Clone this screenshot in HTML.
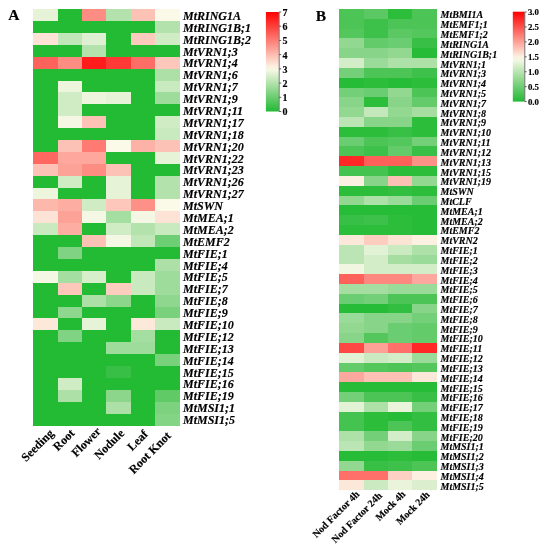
<!DOCTYPE html><html><head><meta charset="utf-8"><style>html,body{margin:0;padding:0;background:#fff;width:548px;height:550px;overflow:hidden}svg{display:block}text{font-family:"Liberation Serif","Times New Roman",serif;font-weight:bold;fill:#000;stroke:#000;stroke-width:0.15px}.it{font-style:italic}</style></head><body>
<svg width="548" height="550" viewBox="0 0 548 550">
<rect x="0" y="0" width="548" height="550" fill="#fff"/>
<defs>
<linearGradient id="ga" x1="0" y1="1" x2="0" y2="0">
<stop offset="0.000" stop-color="#22bb33"/>
<stop offset="0.042" stop-color="#37bf45"/>
<stop offset="0.083" stop-color="#4cc556"/>
<stop offset="0.125" stop-color="#61ca68"/>
<stop offset="0.167" stop-color="#76d07a"/>
<stop offset="0.208" stop-color="#8cd68c"/>
<stop offset="0.250" stop-color="#a1dd9d"/>
<stop offset="0.292" stop-color="#b6e3af"/>
<stop offset="0.333" stop-color="#cbeac1"/>
<stop offset="0.375" stop-color="#e0f1d3"/>
<stop offset="0.417" stop-color="#f5f8e4"/>
<stop offset="0.458" stop-color="#fceede"/>
<stop offset="0.500" stop-color="#fcdbcd"/>
<stop offset="0.542" stop-color="#fdc9bc"/>
<stop offset="0.583" stop-color="#fdb7ab"/>
<stop offset="0.625" stop-color="#fda49a"/>
<stop offset="0.667" stop-color="#fd9289"/>
<stop offset="0.708" stop-color="#fd8078"/>
<stop offset="0.750" stop-color="#fe6e67"/>
<stop offset="0.792" stop-color="#fe5b56"/>
<stop offset="0.833" stop-color="#fe4944"/>
<stop offset="0.875" stop-color="#fe3733"/>
<stop offset="0.917" stop-color="#ff2522"/>
<stop offset="0.958" stop-color="#ff1211"/>
<stop offset="1.000" stop-color="#ff0000"/>
</linearGradient>
<linearGradient id="gb" x1="0" y1="1" x2="0" y2="0">
<stop offset="0.000" stop-color="#22bb33"/>
<stop offset="0.042" stop-color="#35bf43"/>
<stop offset="0.083" stop-color="#48c353"/>
<stop offset="0.125" stop-color="#5bc863"/>
<stop offset="0.167" stop-color="#6ece73"/>
<stop offset="0.208" stop-color="#81d382"/>
<stop offset="0.250" stop-color="#94d992"/>
<stop offset="0.292" stop-color="#a6dfa2"/>
<stop offset="0.333" stop-color="#b9e4b2"/>
<stop offset="0.375" stop-color="#cceac2"/>
<stop offset="0.417" stop-color="#dff1d2"/>
<stop offset="0.458" stop-color="#f2f7e2"/>
<stop offset="0.500" stop-color="#fcf0e1"/>
<stop offset="0.542" stop-color="#fcdcce"/>
<stop offset="0.583" stop-color="#fdc8bb"/>
<stop offset="0.625" stop-color="#fdb4a9"/>
<stop offset="0.667" stop-color="#fda096"/>
<stop offset="0.708" stop-color="#fd8c83"/>
<stop offset="0.750" stop-color="#fe7870"/>
<stop offset="0.792" stop-color="#fe645e"/>
<stop offset="0.833" stop-color="#fe504b"/>
<stop offset="0.875" stop-color="#fe3c38"/>
<stop offset="0.917" stop-color="#ff2826"/>
<stop offset="0.958" stop-color="#ff1413"/>
<stop offset="1.000" stop-color="#ff0000"/>
</linearGradient>
</defs>
<text x="8.3" y="20.4" font-size="15.5">A</text>
<text x="315.8" y="20.8" font-size="15.5">B</text>
<g shape-rendering="crispEdges">
<rect x="33.20" y="9.25" width="24.65" height="12.19" fill="#e6f3d7"/>
<rect x="57.55" y="9.25" width="24.65" height="12.19" fill="#22bb33"/>
<rect x="81.90" y="9.25" width="24.65" height="12.19" fill="#fd8c83"/>
<rect x="106.25" y="9.25" width="24.65" height="12.19" fill="#b3e2ad"/>
<rect x="130.60" y="9.25" width="24.65" height="12.19" fill="#fdc2b6"/>
<rect x="154.95" y="9.25" width="24.65" height="12.19" fill="#fbfae9"/>
<rect x="33.20" y="21.14" width="24.65" height="12.19" fill="#22bb33"/>
<rect x="57.55" y="21.14" width="24.65" height="12.19" fill="#22bb33"/>
<rect x="81.90" y="21.14" width="24.65" height="12.19" fill="#22bb33"/>
<rect x="106.25" y="21.14" width="24.65" height="12.19" fill="#22bb33"/>
<rect x="130.60" y="21.14" width="24.65" height="12.19" fill="#22bb33"/>
<rect x="154.95" y="21.14" width="24.65" height="12.19" fill="#b3e2ad"/>
<rect x="33.20" y="33.03" width="24.65" height="12.19" fill="#fce3d5"/>
<rect x="57.55" y="33.03" width="24.65" height="12.19" fill="#c1e7b9"/>
<rect x="81.90" y="33.03" width="24.65" height="12.19" fill="#def0d1"/>
<rect x="106.25" y="33.03" width="24.65" height="12.19" fill="#22bb33"/>
<rect x="130.60" y="33.03" width="24.65" height="12.19" fill="#fdcbbe"/>
<rect x="154.95" y="33.03" width="24.65" height="12.19" fill="#d0ecc5"/>
<rect x="33.20" y="44.92" width="24.65" height="12.19" fill="#22bb33"/>
<rect x="57.55" y="44.92" width="24.65" height="12.19" fill="#22bb33"/>
<rect x="81.90" y="44.92" width="24.65" height="12.19" fill="#b3e2ad"/>
<rect x="106.25" y="44.92" width="24.65" height="12.19" fill="#22bb33"/>
<rect x="130.60" y="44.92" width="24.65" height="12.19" fill="#22bb33"/>
<rect x="154.95" y="44.92" width="24.65" height="12.19" fill="#22bb33"/>
<rect x="33.20" y="56.81" width="24.65" height="12.19" fill="#fe625c"/>
<rect x="57.55" y="56.81" width="24.65" height="12.19" fill="#fd8c83"/>
<rect x="81.90" y="56.81" width="24.65" height="12.19" fill="#ff1c1b"/>
<rect x="106.25" y="56.81" width="24.65" height="12.19" fill="#fe3936"/>
<rect x="130.60" y="56.81" width="24.65" height="12.19" fill="#fe6e67"/>
<rect x="154.95" y="56.81" width="24.65" height="12.19" fill="#fdc8bb"/>
<rect x="33.20" y="68.70" width="24.65" height="12.19" fill="#22bb33"/>
<rect x="57.55" y="68.70" width="24.65" height="12.19" fill="#22bb33"/>
<rect x="81.90" y="68.70" width="24.65" height="12.19" fill="#22bb33"/>
<rect x="106.25" y="68.70" width="24.65" height="12.19" fill="#22bb33"/>
<rect x="130.60" y="68.70" width="24.65" height="12.19" fill="#22bb33"/>
<rect x="154.95" y="68.70" width="24.65" height="12.19" fill="#ace0a7"/>
<rect x="33.20" y="80.59" width="24.65" height="12.19" fill="#22bb33"/>
<rect x="57.55" y="80.59" width="24.65" height="12.19" fill="#edf5dd"/>
<rect x="81.90" y="80.59" width="24.65" height="12.19" fill="#22bb33"/>
<rect x="106.25" y="80.59" width="24.65" height="12.19" fill="#22bb33"/>
<rect x="130.60" y="80.59" width="24.65" height="12.19" fill="#22bb33"/>
<rect x="154.95" y="80.59" width="24.65" height="12.19" fill="#c9e9bf"/>
<rect x="33.20" y="92.48" width="24.65" height="12.19" fill="#22bb33"/>
<rect x="57.55" y="92.48" width="24.65" height="12.19" fill="#d0ecc5"/>
<rect x="81.90" y="92.48" width="24.65" height="12.19" fill="#edf5dd"/>
<rect x="106.25" y="92.48" width="24.65" height="12.19" fill="#e6f3d7"/>
<rect x="130.60" y="92.48" width="24.65" height="12.19" fill="#22bb33"/>
<rect x="154.95" y="92.48" width="24.65" height="12.19" fill="#9ddc9a"/>
<rect x="33.20" y="104.37" width="24.65" height="12.19" fill="#22bb33"/>
<rect x="57.55" y="104.37" width="24.65" height="12.19" fill="#d0ecc5"/>
<rect x="81.90" y="104.37" width="24.65" height="12.19" fill="#22bb33"/>
<rect x="106.25" y="104.37" width="24.65" height="12.19" fill="#22bb33"/>
<rect x="130.60" y="104.37" width="24.65" height="12.19" fill="#22bb33"/>
<rect x="154.95" y="104.37" width="24.65" height="12.19" fill="#22bb33"/>
<rect x="33.20" y="116.26" width="24.65" height="12.19" fill="#22bb33"/>
<rect x="57.55" y="116.26" width="24.65" height="12.19" fill="#f4f7e3"/>
<rect x="81.90" y="116.26" width="24.65" height="12.19" fill="#fdc2b6"/>
<rect x="106.25" y="116.26" width="24.65" height="12.19" fill="#22bb33"/>
<rect x="130.60" y="116.26" width="24.65" height="12.19" fill="#22bb33"/>
<rect x="154.95" y="116.26" width="24.65" height="12.19" fill="#d0ecc5"/>
<rect x="33.20" y="128.15" width="24.65" height="12.19" fill="#22bb33"/>
<rect x="57.55" y="128.15" width="24.65" height="12.19" fill="#22bb33"/>
<rect x="81.90" y="128.15" width="24.65" height="12.19" fill="#22bb33"/>
<rect x="106.25" y="128.15" width="24.65" height="12.19" fill="#22bb33"/>
<rect x="130.60" y="128.15" width="24.65" height="12.19" fill="#22bb33"/>
<rect x="154.95" y="128.15" width="24.65" height="12.19" fill="#c9e9bf"/>
<rect x="33.20" y="140.04" width="24.65" height="12.19" fill="#22bb33"/>
<rect x="57.55" y="140.04" width="24.65" height="12.19" fill="#fdc2b6"/>
<rect x="81.90" y="140.04" width="24.65" height="12.19" fill="#fe7a72"/>
<rect x="106.25" y="140.04" width="24.65" height="12.19" fill="#fbfae9"/>
<rect x="130.60" y="140.04" width="24.65" height="12.19" fill="#fdb2a7"/>
<rect x="154.95" y="140.04" width="24.65" height="12.19" fill="#fdc2b6"/>
<rect x="33.20" y="151.93" width="24.65" height="12.19" fill="#fe6861"/>
<rect x="57.55" y="151.93" width="24.65" height="12.19" fill="#fda79d"/>
<rect x="81.90" y="151.93" width="24.65" height="12.19" fill="#fda79d"/>
<rect x="106.25" y="151.93" width="24.65" height="12.19" fill="#22bb33"/>
<rect x="130.60" y="151.93" width="24.65" height="12.19" fill="#22bb33"/>
<rect x="154.95" y="151.93" width="24.65" height="12.19" fill="#e6f3d7"/>
<rect x="33.20" y="163.82" width="24.65" height="12.19" fill="#fdc2b6"/>
<rect x="57.55" y="163.82" width="24.65" height="12.19" fill="#fda297"/>
<rect x="81.90" y="163.82" width="24.65" height="12.19" fill="#fd8c83"/>
<rect x="106.25" y="163.82" width="24.65" height="12.19" fill="#fdc2b6"/>
<rect x="130.60" y="163.82" width="24.65" height="12.19" fill="#22bb33"/>
<rect x="154.95" y="163.82" width="24.65" height="12.19" fill="#22bb33"/>
<rect x="33.20" y="175.71" width="24.65" height="12.19" fill="#22bb33"/>
<rect x="57.55" y="175.71" width="24.65" height="12.19" fill="#d0ecc5"/>
<rect x="81.90" y="175.71" width="24.65" height="12.19" fill="#22bb33"/>
<rect x="106.25" y="175.71" width="24.65" height="12.19" fill="#e6f3d7"/>
<rect x="130.60" y="175.71" width="24.65" height="12.19" fill="#22bb33"/>
<rect x="154.95" y="175.71" width="24.65" height="12.19" fill="#b3e2ad"/>
<rect x="33.20" y="187.60" width="24.65" height="12.19" fill="#edf5dd"/>
<rect x="57.55" y="187.60" width="24.65" height="12.19" fill="#22bb33"/>
<rect x="81.90" y="187.60" width="24.65" height="12.19" fill="#22bb33"/>
<rect x="106.25" y="187.60" width="24.65" height="12.19" fill="#e6f3d7"/>
<rect x="130.60" y="187.60" width="24.65" height="12.19" fill="#22bb33"/>
<rect x="154.95" y="187.60" width="24.65" height="12.19" fill="#b3e2ad"/>
<rect x="33.20" y="199.49" width="24.65" height="12.19" fill="#fdb8ac"/>
<rect x="57.55" y="199.49" width="24.65" height="12.19" fill="#fdada2"/>
<rect x="81.90" y="199.49" width="24.65" height="12.19" fill="#d0ecc5"/>
<rect x="106.25" y="199.49" width="24.65" height="12.19" fill="#fdc8bb"/>
<rect x="130.60" y="199.49" width="24.65" height="12.19" fill="#fd9188"/>
<rect x="154.95" y="199.49" width="24.65" height="12.19" fill="#fbfae9"/>
<rect x="33.20" y="211.38" width="24.65" height="12.19" fill="#fce3d5"/>
<rect x="57.55" y="211.38" width="24.65" height="12.19" fill="#fda297"/>
<rect x="81.90" y="211.38" width="24.65" height="12.19" fill="#f4f7e3"/>
<rect x="106.25" y="211.38" width="24.65" height="12.19" fill="#a4dea0"/>
<rect x="130.60" y="211.38" width="24.65" height="12.19" fill="#f4f7e3"/>
<rect x="154.95" y="211.38" width="24.65" height="12.19" fill="#fce3d5"/>
<rect x="33.20" y="223.27" width="24.65" height="12.19" fill="#c9e9bf"/>
<rect x="57.55" y="223.27" width="24.65" height="12.19" fill="#fdada2"/>
<rect x="81.90" y="223.27" width="24.65" height="12.19" fill="#22bb33"/>
<rect x="106.25" y="223.27" width="24.65" height="12.19" fill="#d0ecc5"/>
<rect x="130.60" y="223.27" width="24.65" height="12.19" fill="#b3e2ad"/>
<rect x="154.95" y="223.27" width="24.65" height="12.19" fill="#c9e9bf"/>
<rect x="33.20" y="235.16" width="24.65" height="12.19" fill="#22bb33"/>
<rect x="57.55" y="235.16" width="24.65" height="12.19" fill="#22bb33"/>
<rect x="81.90" y="235.16" width="24.65" height="12.19" fill="#fdc2b6"/>
<rect x="106.25" y="235.16" width="24.65" height="12.19" fill="#f4f7e3"/>
<rect x="130.60" y="235.16" width="24.65" height="12.19" fill="#c1e7b9"/>
<rect x="154.95" y="235.16" width="24.65" height="12.19" fill="#6ece73"/>
<rect x="33.20" y="247.05" width="24.65" height="12.19" fill="#22bb33"/>
<rect x="57.55" y="247.05" width="24.65" height="12.19" fill="#80d382"/>
<rect x="81.90" y="247.05" width="24.65" height="12.19" fill="#22bb33"/>
<rect x="106.25" y="247.05" width="24.65" height="12.19" fill="#22bb33"/>
<rect x="130.60" y="247.05" width="24.65" height="12.19" fill="#22bb33"/>
<rect x="154.95" y="247.05" width="24.65" height="12.19" fill="#22bb33"/>
<rect x="33.20" y="258.94" width="24.65" height="12.19" fill="#22bb33"/>
<rect x="57.55" y="258.94" width="24.65" height="12.19" fill="#22bb33"/>
<rect x="81.90" y="258.94" width="24.65" height="12.19" fill="#22bb33"/>
<rect x="106.25" y="258.94" width="24.65" height="12.19" fill="#22bb33"/>
<rect x="130.60" y="258.94" width="24.65" height="12.19" fill="#22bb33"/>
<rect x="154.95" y="258.94" width="24.65" height="12.19" fill="#ace0a7"/>
<rect x="33.20" y="270.83" width="24.65" height="12.19" fill="#f4f7e3"/>
<rect x="57.55" y="270.83" width="24.65" height="12.19" fill="#a4dea0"/>
<rect x="81.90" y="270.83" width="24.65" height="12.19" fill="#d7eecb"/>
<rect x="106.25" y="270.83" width="24.65" height="12.19" fill="#22bb33"/>
<rect x="130.60" y="270.83" width="24.65" height="12.19" fill="#c9e9bf"/>
<rect x="154.95" y="270.83" width="24.65" height="12.19" fill="#9ddc9a"/>
<rect x="33.20" y="282.72" width="24.65" height="12.19" fill="#22bb33"/>
<rect x="57.55" y="282.72" width="24.65" height="12.19" fill="#fdc8bb"/>
<rect x="81.90" y="282.72" width="24.65" height="12.19" fill="#22bb33"/>
<rect x="106.25" y="282.72" width="24.65" height="12.19" fill="#fdcdc0"/>
<rect x="130.60" y="282.72" width="24.65" height="12.19" fill="#c9e9bf"/>
<rect x="154.95" y="282.72" width="24.65" height="12.19" fill="#9ddc9a"/>
<rect x="33.20" y="294.61" width="24.65" height="12.19" fill="#22bb33"/>
<rect x="57.55" y="294.61" width="24.65" height="12.19" fill="#22bb33"/>
<rect x="81.90" y="294.61" width="24.65" height="12.19" fill="#ace0a7"/>
<rect x="106.25" y="294.61" width="24.65" height="12.19" fill="#8bd68b"/>
<rect x="130.60" y="294.61" width="24.65" height="12.19" fill="#22bb33"/>
<rect x="154.95" y="294.61" width="24.65" height="12.19" fill="#8fd78e"/>
<rect x="33.20" y="306.50" width="24.65" height="12.19" fill="#22bb33"/>
<rect x="57.55" y="306.50" width="24.65" height="12.19" fill="#8fd78e"/>
<rect x="81.90" y="306.50" width="24.65" height="12.19" fill="#22bb33"/>
<rect x="106.25" y="306.50" width="24.65" height="12.19" fill="#22bb33"/>
<rect x="130.60" y="306.50" width="24.65" height="12.19" fill="#22bb33"/>
<rect x="154.95" y="306.50" width="24.65" height="12.19" fill="#79d17c"/>
<rect x="33.20" y="318.39" width="24.65" height="12.19" fill="#fce9da"/>
<rect x="57.55" y="318.39" width="24.65" height="12.19" fill="#22bb33"/>
<rect x="81.90" y="318.39" width="24.65" height="12.19" fill="#e6f3d7"/>
<rect x="106.25" y="318.39" width="24.65" height="12.19" fill="#22bb33"/>
<rect x="130.60" y="318.39" width="24.65" height="12.19" fill="#fce9da"/>
<rect x="154.95" y="318.39" width="24.65" height="12.19" fill="#c9e9bf"/>
<rect x="33.20" y="330.28" width="24.65" height="12.19" fill="#22bb33"/>
<rect x="57.55" y="330.28" width="24.65" height="12.19" fill="#80d382"/>
<rect x="81.90" y="330.28" width="24.65" height="12.19" fill="#22bb33"/>
<rect x="106.25" y="330.28" width="24.65" height="12.19" fill="#22bb33"/>
<rect x="130.60" y="330.28" width="24.65" height="12.19" fill="#a4dea0"/>
<rect x="154.95" y="330.28" width="24.65" height="12.19" fill="#22bb33"/>
<rect x="33.20" y="342.17" width="24.65" height="12.19" fill="#22bb33"/>
<rect x="57.55" y="342.17" width="24.65" height="12.19" fill="#22bb33"/>
<rect x="81.90" y="342.17" width="24.65" height="12.19" fill="#22bb33"/>
<rect x="106.25" y="342.17" width="24.65" height="12.19" fill="#9ddc9a"/>
<rect x="130.60" y="342.17" width="24.65" height="12.19" fill="#9ddc9a"/>
<rect x="154.95" y="342.17" width="24.65" height="12.19" fill="#22bb33"/>
<rect x="33.20" y="354.06" width="24.65" height="12.19" fill="#22bb33"/>
<rect x="57.55" y="354.06" width="24.65" height="12.19" fill="#22bb33"/>
<rect x="81.90" y="354.06" width="24.65" height="12.19" fill="#22bb33"/>
<rect x="106.25" y="354.06" width="24.65" height="12.19" fill="#22bb33"/>
<rect x="130.60" y="354.06" width="24.65" height="12.19" fill="#22bb33"/>
<rect x="154.95" y="354.06" width="24.65" height="12.19" fill="#79d17c"/>
<rect x="33.20" y="365.95" width="24.65" height="12.19" fill="#22bb33"/>
<rect x="57.55" y="365.95" width="24.65" height="12.19" fill="#22bb33"/>
<rect x="81.90" y="365.95" width="24.65" height="12.19" fill="#22bb33"/>
<rect x="106.25" y="365.95" width="24.65" height="12.19" fill="#38bf45"/>
<rect x="130.60" y="365.95" width="24.65" height="12.19" fill="#22bb33"/>
<rect x="154.95" y="365.95" width="24.65" height="12.19" fill="#22bb33"/>
<rect x="33.20" y="377.84" width="24.65" height="12.19" fill="#22bb33"/>
<rect x="57.55" y="377.84" width="24.65" height="12.19" fill="#d0ecc5"/>
<rect x="81.90" y="377.84" width="24.65" height="12.19" fill="#22bb33"/>
<rect x="106.25" y="377.84" width="24.65" height="12.19" fill="#22bb33"/>
<rect x="130.60" y="377.84" width="24.65" height="12.19" fill="#22bb33"/>
<rect x="154.95" y="377.84" width="24.65" height="12.19" fill="#22bb33"/>
<rect x="33.20" y="389.73" width="24.65" height="12.19" fill="#22bb33"/>
<rect x="57.55" y="389.73" width="24.65" height="12.19" fill="#ace0a7"/>
<rect x="81.90" y="389.73" width="24.65" height="12.19" fill="#22bb33"/>
<rect x="106.25" y="389.73" width="24.65" height="12.19" fill="#8bd68b"/>
<rect x="130.60" y="389.73" width="24.65" height="12.19" fill="#22bb33"/>
<rect x="154.95" y="389.73" width="24.65" height="12.19" fill="#60ca67"/>
<rect x="33.20" y="401.62" width="24.65" height="12.19" fill="#22bb33"/>
<rect x="57.55" y="401.62" width="24.65" height="12.19" fill="#22bb33"/>
<rect x="81.90" y="401.62" width="24.65" height="12.19" fill="#22bb33"/>
<rect x="106.25" y="401.62" width="24.65" height="12.19" fill="#ace0a7"/>
<rect x="130.60" y="401.62" width="24.65" height="12.19" fill="#22bb33"/>
<rect x="154.95" y="401.62" width="24.65" height="12.19" fill="#7dd27f"/>
<rect x="33.20" y="413.51" width="24.65" height="12.19" fill="#22bb33"/>
<rect x="57.55" y="413.51" width="24.65" height="12.19" fill="#22bb33"/>
<rect x="81.90" y="413.51" width="24.65" height="12.19" fill="#22bb33"/>
<rect x="106.25" y="413.51" width="24.65" height="12.19" fill="#22bb33"/>
<rect x="130.60" y="413.51" width="24.65" height="12.19" fill="#22bb33"/>
<rect x="154.95" y="413.51" width="24.65" height="12.19" fill="#84d485"/>
<rect x="339.10" y="9.00" width="24.75" height="10.12" fill="#4cc456"/>
<rect x="363.55" y="9.00" width="24.75" height="10.12" fill="#5bc863"/>
<rect x="388.00" y="9.00" width="24.75" height="10.12" fill="#2cbd3b"/>
<rect x="412.45" y="9.00" width="24.75" height="10.12" fill="#4cc456"/>
<rect x="339.10" y="18.82" width="24.75" height="10.12" fill="#4cc456"/>
<rect x="363.55" y="18.82" width="24.75" height="10.12" fill="#3ec14a"/>
<rect x="388.00" y="18.82" width="24.75" height="10.12" fill="#4cc456"/>
<rect x="412.45" y="18.82" width="24.75" height="10.12" fill="#4cc456"/>
<rect x="339.10" y="28.64" width="24.75" height="10.12" fill="#53c65c"/>
<rect x="363.55" y="28.64" width="24.75" height="10.12" fill="#3ec14a"/>
<rect x="388.00" y="28.64" width="24.75" height="10.12" fill="#5bc863"/>
<rect x="412.45" y="28.64" width="24.75" height="10.12" fill="#53c65c"/>
<rect x="339.10" y="38.46" width="24.75" height="10.12" fill="#92d891"/>
<rect x="363.55" y="38.46" width="24.75" height="10.12" fill="#63cb69"/>
<rect x="388.00" y="38.46" width="24.75" height="10.12" fill="#6bcd71"/>
<rect x="412.45" y="38.46" width="24.75" height="10.12" fill="#38bf45"/>
<rect x="339.10" y="48.28" width="24.75" height="10.12" fill="#88d589"/>
<rect x="363.55" y="48.28" width="24.75" height="10.12" fill="#88d589"/>
<rect x="388.00" y="48.28" width="24.75" height="10.12" fill="#92d891"/>
<rect x="412.45" y="48.28" width="24.75" height="10.12" fill="#27bc37"/>
<rect x="339.10" y="58.10" width="24.75" height="10.12" fill="#d3edc8"/>
<rect x="363.55" y="58.10" width="24.75" height="10.12" fill="#9bdb99"/>
<rect x="388.00" y="58.10" width="24.75" height="10.12" fill="#ade1a8"/>
<rect x="412.45" y="58.10" width="24.75" height="10.12" fill="#ade1a8"/>
<rect x="339.10" y="67.92" width="24.75" height="10.12" fill="#74d078"/>
<rect x="363.55" y="67.92" width="24.75" height="10.12" fill="#4cc456"/>
<rect x="388.00" y="67.92" width="24.75" height="10.12" fill="#4cc456"/>
<rect x="412.45" y="67.92" width="24.75" height="10.12" fill="#3ec14a"/>
<rect x="339.10" y="77.74" width="24.75" height="10.12" fill="#27bc37"/>
<rect x="363.55" y="77.74" width="24.75" height="10.12" fill="#2cbd3b"/>
<rect x="388.00" y="77.74" width="24.75" height="10.12" fill="#27bc37"/>
<rect x="412.45" y="77.74" width="24.75" height="10.12" fill="#2cbd3b"/>
<rect x="339.10" y="87.56" width="24.75" height="10.12" fill="#74d078"/>
<rect x="363.55" y="87.56" width="24.75" height="10.12" fill="#6bcd71"/>
<rect x="388.00" y="87.56" width="24.75" height="10.12" fill="#92d891"/>
<rect x="412.45" y="87.56" width="24.75" height="10.12" fill="#4cc456"/>
<rect x="339.10" y="97.38" width="24.75" height="10.12" fill="#88d589"/>
<rect x="363.55" y="97.38" width="24.75" height="10.12" fill="#2cbd3b"/>
<rect x="388.00" y="97.38" width="24.75" height="10.12" fill="#88d589"/>
<rect x="412.45" y="97.38" width="24.75" height="10.12" fill="#63cb69"/>
<rect x="339.10" y="107.20" width="24.75" height="10.12" fill="#92d891"/>
<rect x="363.55" y="107.20" width="24.75" height="10.12" fill="#c4e8bb"/>
<rect x="388.00" y="107.20" width="24.75" height="10.12" fill="#92d891"/>
<rect x="412.45" y="107.20" width="24.75" height="10.12" fill="#a6dea2"/>
<rect x="339.10" y="117.02" width="24.75" height="10.12" fill="#bce5b5"/>
<rect x="363.55" y="117.02" width="24.75" height="10.12" fill="#88d589"/>
<rect x="388.00" y="117.02" width="24.75" height="10.12" fill="#88d589"/>
<rect x="412.45" y="117.02" width="24.75" height="10.12" fill="#2cbd3b"/>
<rect x="339.10" y="126.84" width="24.75" height="10.12" fill="#2cbd3b"/>
<rect x="363.55" y="126.84" width="24.75" height="10.12" fill="#2cbd3b"/>
<rect x="388.00" y="126.84" width="24.75" height="10.12" fill="#38bf45"/>
<rect x="412.45" y="126.84" width="24.75" height="10.12" fill="#2cbd3b"/>
<rect x="339.10" y="136.66" width="24.75" height="10.12" fill="#6bcd71"/>
<rect x="363.55" y="136.66" width="24.75" height="10.12" fill="#4cc456"/>
<rect x="388.00" y="136.66" width="24.75" height="10.12" fill="#53c65c"/>
<rect x="412.45" y="136.66" width="24.75" height="10.12" fill="#74d078"/>
<rect x="339.10" y="146.48" width="24.75" height="10.12" fill="#4cc456"/>
<rect x="363.55" y="146.48" width="24.75" height="10.12" fill="#3ec14a"/>
<rect x="388.00" y="146.48" width="24.75" height="10.12" fill="#63cb69"/>
<rect x="412.45" y="146.48" width="24.75" height="10.12" fill="#38bf45"/>
<rect x="339.10" y="156.30" width="24.75" height="10.12" fill="#ff2826"/>
<rect x="363.55" y="156.30" width="24.75" height="10.12" fill="#fe605a"/>
<rect x="388.00" y="156.30" width="24.75" height="10.12" fill="#fe605a"/>
<rect x="412.45" y="156.30" width="24.75" height="10.12" fill="#fd9087"/>
<rect x="339.10" y="166.12" width="24.75" height="10.12" fill="#45c350"/>
<rect x="363.55" y="166.12" width="24.75" height="10.12" fill="#45c350"/>
<rect x="388.00" y="166.12" width="24.75" height="10.12" fill="#2cbd3b"/>
<rect x="412.45" y="166.12" width="24.75" height="10.12" fill="#2cbd3b"/>
<rect x="339.10" y="175.94" width="24.75" height="10.12" fill="#fcf0e1"/>
<rect x="363.55" y="175.94" width="24.75" height="10.12" fill="#88d589"/>
<rect x="388.00" y="175.94" width="24.75" height="10.12" fill="#fdc0b4"/>
<rect x="412.45" y="175.94" width="24.75" height="10.12" fill="#92d891"/>
<rect x="339.10" y="185.76" width="24.75" height="10.12" fill="#2cbd3b"/>
<rect x="363.55" y="185.76" width="24.75" height="10.12" fill="#2cbd3b"/>
<rect x="388.00" y="185.76" width="24.75" height="10.12" fill="#32be40"/>
<rect x="412.45" y="185.76" width="24.75" height="10.12" fill="#2cbd3b"/>
<rect x="339.10" y="195.58" width="24.75" height="10.12" fill="#92d891"/>
<rect x="363.55" y="195.58" width="24.75" height="10.12" fill="#ade1a8"/>
<rect x="388.00" y="195.58" width="24.75" height="10.12" fill="#9bdb99"/>
<rect x="412.45" y="195.58" width="24.75" height="10.12" fill="#6bcd71"/>
<rect x="339.10" y="205.40" width="24.75" height="10.12" fill="#27bc37"/>
<rect x="363.55" y="205.40" width="24.75" height="10.12" fill="#27bc37"/>
<rect x="388.00" y="205.40" width="24.75" height="10.12" fill="#27bc37"/>
<rect x="412.45" y="205.40" width="24.75" height="10.12" fill="#27bc37"/>
<rect x="339.10" y="215.22" width="24.75" height="10.12" fill="#38bf45"/>
<rect x="363.55" y="215.22" width="24.75" height="10.12" fill="#3ec14a"/>
<rect x="388.00" y="215.22" width="24.75" height="10.12" fill="#2cbd3b"/>
<rect x="412.45" y="215.22" width="24.75" height="10.12" fill="#27bc37"/>
<rect x="339.10" y="225.04" width="24.75" height="10.12" fill="#2cbd3b"/>
<rect x="363.55" y="225.04" width="24.75" height="10.12" fill="#2cbd3b"/>
<rect x="388.00" y="225.04" width="24.75" height="10.12" fill="#2cbd3b"/>
<rect x="412.45" y="225.04" width="24.75" height="10.12" fill="#27bc37"/>
<rect x="339.10" y="234.86" width="24.75" height="10.12" fill="#fce8d9"/>
<rect x="363.55" y="234.86" width="24.75" height="10.12" fill="#fdcdc0"/>
<rect x="388.00" y="234.86" width="24.75" height="10.12" fill="#fce4d5"/>
<rect x="412.45" y="234.86" width="24.75" height="10.12" fill="#fcf0e1"/>
<rect x="339.10" y="244.68" width="24.75" height="10.12" fill="#bce5b5"/>
<rect x="363.55" y="244.68" width="24.75" height="10.12" fill="#e2f2d4"/>
<rect x="388.00" y="244.68" width="24.75" height="10.12" fill="#cceac1"/>
<rect x="412.45" y="244.68" width="24.75" height="10.12" fill="#ade1a8"/>
<rect x="339.10" y="254.50" width="24.75" height="10.12" fill="#bce5b5"/>
<rect x="363.55" y="254.50" width="24.75" height="10.12" fill="#d3edc8"/>
<rect x="388.00" y="254.50" width="24.75" height="10.12" fill="#a6dea2"/>
<rect x="412.45" y="254.50" width="24.75" height="10.12" fill="#9bdb99"/>
<rect x="339.10" y="264.32" width="24.75" height="10.12" fill="#f1f6e1"/>
<rect x="363.55" y="264.32" width="24.75" height="10.12" fill="#d3edc8"/>
<rect x="388.00" y="264.32" width="24.75" height="10.12" fill="#d3edc8"/>
<rect x="412.45" y="264.32" width="24.75" height="10.12" fill="#d3edc8"/>
<rect x="339.10" y="274.14" width="24.75" height="10.12" fill="#fe605a"/>
<rect x="363.55" y="274.14" width="24.75" height="10.12" fill="#fd887f"/>
<rect x="388.00" y="274.14" width="24.75" height="10.12" fill="#fd887f"/>
<rect x="412.45" y="274.14" width="24.75" height="10.12" fill="#fda89e"/>
<rect x="339.10" y="283.96" width="24.75" height="10.12" fill="#a6dea2"/>
<rect x="363.55" y="283.96" width="24.75" height="10.12" fill="#a6dea2"/>
<rect x="388.00" y="283.96" width="24.75" height="10.12" fill="#9bdb99"/>
<rect x="412.45" y="283.96" width="24.75" height="10.12" fill="#9bdb99"/>
<rect x="339.10" y="293.78" width="24.75" height="10.12" fill="#6bcd71"/>
<rect x="363.55" y="293.78" width="24.75" height="10.12" fill="#74d078"/>
<rect x="388.00" y="293.78" width="24.75" height="10.12" fill="#4cc456"/>
<rect x="412.45" y="293.78" width="24.75" height="10.12" fill="#4cc456"/>
<rect x="339.10" y="303.60" width="24.75" height="10.12" fill="#27bc37"/>
<rect x="363.55" y="303.60" width="24.75" height="10.12" fill="#27bc37"/>
<rect x="388.00" y="303.60" width="24.75" height="10.12" fill="#32be40"/>
<rect x="412.45" y="303.60" width="24.75" height="10.12" fill="#88d589"/>
<rect x="339.10" y="313.42" width="24.75" height="10.12" fill="#9bdb99"/>
<rect x="363.55" y="313.42" width="24.75" height="10.12" fill="#88d589"/>
<rect x="388.00" y="313.42" width="24.75" height="10.12" fill="#88d589"/>
<rect x="412.45" y="313.42" width="24.75" height="10.12" fill="#74d078"/>
<rect x="339.10" y="323.24" width="24.75" height="10.12" fill="#92d891"/>
<rect x="363.55" y="323.24" width="24.75" height="10.12" fill="#88d589"/>
<rect x="388.00" y="323.24" width="24.75" height="10.12" fill="#6bcd71"/>
<rect x="412.45" y="323.24" width="24.75" height="10.12" fill="#63cb69"/>
<rect x="339.10" y="333.06" width="24.75" height="10.12" fill="#88d589"/>
<rect x="363.55" y="333.06" width="24.75" height="10.12" fill="#53c65c"/>
<rect x="388.00" y="333.06" width="24.75" height="10.12" fill="#6bcd71"/>
<rect x="412.45" y="333.06" width="24.75" height="10.12" fill="#63cb69"/>
<rect x="339.10" y="342.88" width="24.75" height="10.12" fill="#fe4844"/>
<rect x="363.55" y="342.88" width="24.75" height="10.12" fill="#fda096"/>
<rect x="388.00" y="342.88" width="24.75" height="10.12" fill="#fe7069"/>
<rect x="412.45" y="342.88" width="24.75" height="10.12" fill="#ff2826"/>
<rect x="339.10" y="352.70" width="24.75" height="10.12" fill="#e2f2d4"/>
<rect x="363.55" y="352.70" width="24.75" height="10.12" fill="#cceac1"/>
<rect x="388.00" y="352.70" width="24.75" height="10.12" fill="#d3edc8"/>
<rect x="412.45" y="352.70" width="24.75" height="10.12" fill="#9bdb99"/>
<rect x="339.10" y="362.52" width="24.75" height="10.12" fill="#63cb69"/>
<rect x="363.55" y="362.52" width="24.75" height="10.12" fill="#53c65c"/>
<rect x="388.00" y="362.52" width="24.75" height="10.12" fill="#4cc456"/>
<rect x="412.45" y="362.52" width="24.75" height="10.12" fill="#53c65c"/>
<rect x="339.10" y="372.34" width="24.75" height="10.12" fill="#fda89e"/>
<rect x="363.55" y="372.34" width="24.75" height="10.12" fill="#fdc0b4"/>
<rect x="388.00" y="372.34" width="24.75" height="10.12" fill="#fdc0b4"/>
<rect x="412.45" y="372.34" width="24.75" height="10.12" fill="#fce8d9"/>
<rect x="339.10" y="382.16" width="24.75" height="10.12" fill="#27bc37"/>
<rect x="363.55" y="382.16" width="24.75" height="10.12" fill="#27bc37"/>
<rect x="388.00" y="382.16" width="24.75" height="10.12" fill="#27bc37"/>
<rect x="412.45" y="382.16" width="24.75" height="10.12" fill="#27bc37"/>
<rect x="339.10" y="391.98" width="24.75" height="10.12" fill="#74d078"/>
<rect x="363.55" y="391.98" width="24.75" height="10.12" fill="#4cc456"/>
<rect x="388.00" y="391.98" width="24.75" height="10.12" fill="#4cc456"/>
<rect x="412.45" y="391.98" width="24.75" height="10.12" fill="#38bf45"/>
<rect x="339.10" y="401.80" width="24.75" height="10.12" fill="#e2f2d4"/>
<rect x="363.55" y="401.80" width="24.75" height="10.12" fill="#ade1a8"/>
<rect x="388.00" y="401.80" width="24.75" height="10.12" fill="#eaf4db"/>
<rect x="412.45" y="401.80" width="24.75" height="10.12" fill="#74d078"/>
<rect x="339.10" y="411.62" width="24.75" height="10.12" fill="#45c350"/>
<rect x="363.55" y="411.62" width="24.75" height="10.12" fill="#2cbd3b"/>
<rect x="388.00" y="411.62" width="24.75" height="10.12" fill="#27bc37"/>
<rect x="412.45" y="411.62" width="24.75" height="10.12" fill="#32be40"/>
<rect x="339.10" y="421.44" width="24.75" height="10.12" fill="#45c350"/>
<rect x="363.55" y="421.44" width="24.75" height="10.12" fill="#2cbd3b"/>
<rect x="388.00" y="421.44" width="24.75" height="10.12" fill="#4cc456"/>
<rect x="412.45" y="421.44" width="24.75" height="10.12" fill="#32be40"/>
<rect x="339.10" y="431.26" width="24.75" height="10.12" fill="#ade1a8"/>
<rect x="363.55" y="431.26" width="24.75" height="10.12" fill="#74d078"/>
<rect x="388.00" y="431.26" width="24.75" height="10.12" fill="#d3edc8"/>
<rect x="412.45" y="431.26" width="24.75" height="10.12" fill="#88d589"/>
<rect x="339.10" y="441.08" width="24.75" height="10.12" fill="#bce5b5"/>
<rect x="363.55" y="441.08" width="24.75" height="10.12" fill="#92d891"/>
<rect x="388.00" y="441.08" width="24.75" height="10.12" fill="#9bdb99"/>
<rect x="412.45" y="441.08" width="24.75" height="10.12" fill="#6bcd71"/>
<rect x="339.10" y="450.90" width="24.75" height="10.12" fill="#27bc37"/>
<rect x="363.55" y="450.90" width="24.75" height="10.12" fill="#27bc37"/>
<rect x="388.00" y="450.90" width="24.75" height="10.12" fill="#2cbd3b"/>
<rect x="412.45" y="450.90" width="24.75" height="10.12" fill="#27bc37"/>
<rect x="339.10" y="460.72" width="24.75" height="10.12" fill="#92d891"/>
<rect x="363.55" y="460.72" width="24.75" height="10.12" fill="#38bf45"/>
<rect x="388.00" y="460.72" width="24.75" height="10.12" fill="#3ec14a"/>
<rect x="412.45" y="460.72" width="24.75" height="10.12" fill="#4cc456"/>
<rect x="339.10" y="470.54" width="24.75" height="10.12" fill="#fe7069"/>
<rect x="363.55" y="470.54" width="24.75" height="10.12" fill="#fe7069"/>
<rect x="388.00" y="470.54" width="24.75" height="10.12" fill="#fcd0c3"/>
<rect x="412.45" y="470.54" width="24.75" height="10.12" fill="#fcf0e1"/>
<rect x="339.10" y="480.36" width="24.75" height="10.12" fill="#fce8d9"/>
<rect x="363.55" y="480.36" width="24.75" height="10.12" fill="#cceac1"/>
<rect x="388.00" y="480.36" width="24.75" height="10.12" fill="#eaf4db"/>
<rect x="412.45" y="480.36" width="24.75" height="10.12" fill="#dbefce"/>
</g>
<text class="it" x="183" y="19.89" font-size="12">MtRING1A</text>
<text class="it" x="183" y="31.79" font-size="12">MtRING1B;1</text>
<text class="it" x="183" y="43.68" font-size="12">MtRING1B;2</text>
<text class="it" x="183" y="55.57" font-size="12">MtVRN1;3</text>
<text class="it" x="183" y="67.45" font-size="12">MtVRN1;4</text>
<text class="it" x="183" y="79.35" font-size="12">MtVRN1;6</text>
<text class="it" x="183" y="91.23" font-size="12">MtVRN1;7</text>
<text class="it" x="183" y="103.13" font-size="12">MtVRN1;9</text>
<text class="it" x="183" y="115.02" font-size="12">MtVRN1;11</text>
<text class="it" x="183" y="126.91" font-size="12">MtVRN1;17</text>
<text class="it" x="183" y="138.79" font-size="12">MtVRN1;18</text>
<text class="it" x="183" y="150.69" font-size="12">MtVRN1;20</text>
<text class="it" x="183" y="162.57" font-size="12">MtVRN1;22</text>
<text class="it" x="183" y="174.47" font-size="12">MtVRN1;23</text>
<text class="it" x="183" y="186.35" font-size="12">MtVRN1;26</text>
<text class="it" x="183" y="198.25" font-size="12">MtVRN1;27</text>
<text class="it" x="183" y="210.13" font-size="12">MtSWN</text>
<text class="it" x="183" y="222.03" font-size="12">MtMEA;1</text>
<text class="it" x="183" y="233.91" font-size="12">MtMEA;2</text>
<text class="it" x="183" y="245.81" font-size="12">MtEMF2</text>
<text class="it" x="183" y="257.69" font-size="12">MtFIE;1</text>
<text class="it" x="183" y="269.58" font-size="12">MtFIE;4</text>
<text class="it" x="183" y="281.48" font-size="12">MtFIE;5</text>
<text class="it" x="183" y="293.37" font-size="12">MtFIE;7</text>
<text class="it" x="183" y="305.25" font-size="12">MtFIE;8</text>
<text class="it" x="183" y="317.14" font-size="12">MtFIE;9</text>
<text class="it" x="183" y="329.04" font-size="12">MtFIE;10</text>
<text class="it" x="183" y="340.93" font-size="12">MtFIE;12</text>
<text class="it" x="183" y="352.81" font-size="12">MtFIE;13</text>
<text class="it" x="183" y="364.70" font-size="12">MtFIE;14</text>
<text class="it" x="183" y="376.60" font-size="12">MtFIE;15</text>
<text class="it" x="183" y="388.49" font-size="12">MtFIE;16</text>
<text class="it" x="183" y="400.38" font-size="12">MtFIE;19</text>
<text class="it" x="183" y="412.26" font-size="12">MtMSI1;1</text>
<text class="it" x="183" y="424.16" font-size="12">MtMSI1;5</text>
<text class="it" x="440.5" y="18.41" font-size="10">MtBMI1A</text>
<text class="it" x="440.5" y="28.23" font-size="10">MtEMF1;1</text>
<text class="it" x="440.5" y="38.05" font-size="10">MtEMF1;2</text>
<text class="it" x="440.5" y="47.87" font-size="10">MtRING1A</text>
<text class="it" x="440.5" y="57.69" font-size="10">MtRING1B;1</text>
<text class="it" x="440.5" y="67.51" font-size="10">MtVRN1;1</text>
<text class="it" x="440.5" y="77.33" font-size="10">MtVRN1;3</text>
<text class="it" x="440.5" y="87.15" font-size="10">MtVRN1;4</text>
<text class="it" x="440.5" y="96.97" font-size="10">MtVRN1;5</text>
<text class="it" x="440.5" y="106.79" font-size="10">MtVRN1;7</text>
<text class="it" x="440.5" y="116.61" font-size="10">MtVRN1;8</text>
<text class="it" x="440.5" y="126.43" font-size="10">MtVRN1;9</text>
<text class="it" x="440.5" y="136.25" font-size="10">MtVRN1;10</text>
<text class="it" x="440.5" y="146.07" font-size="10">MtVRN1;11</text>
<text class="it" x="440.5" y="155.89" font-size="10">MtVRN1;12</text>
<text class="it" x="440.5" y="165.71" font-size="10">MtVRN1;13</text>
<text class="it" x="440.5" y="175.53" font-size="10">MtVRN1;15</text>
<text class="it" x="440.5" y="185.35" font-size="10">MtVRN1;19</text>
<text class="it" x="440.5" y="195.17" font-size="10">MtSWN</text>
<text class="it" x="440.5" y="204.99" font-size="10">MtCLF</text>
<text class="it" x="440.5" y="214.81" font-size="10">MtMEA;1</text>
<text class="it" x="440.5" y="224.63" font-size="10">MtMEA;2</text>
<text class="it" x="440.5" y="234.45" font-size="10">MtEMF2</text>
<text class="it" x="440.5" y="244.27" font-size="10">MtVRN2</text>
<text class="it" x="440.5" y="254.09" font-size="10">MtFIE;1</text>
<text class="it" x="440.5" y="263.91" font-size="10">MtFIE;2</text>
<text class="it" x="440.5" y="273.73" font-size="10">MtFIE;3</text>
<text class="it" x="440.5" y="283.55" font-size="10">MtFIE;4</text>
<text class="it" x="440.5" y="293.37" font-size="10">MtFIE;5</text>
<text class="it" x="440.5" y="303.19" font-size="10">MtFIE;6</text>
<text class="it" x="440.5" y="313.01" font-size="10">MtFIE;7</text>
<text class="it" x="440.5" y="322.83" font-size="10">MtFIE;8</text>
<text class="it" x="440.5" y="332.65" font-size="10">MtFIE;9</text>
<text class="it" x="440.5" y="342.47" font-size="10">MtFIE;10</text>
<text class="it" x="440.5" y="352.29" font-size="10">MtFIE;11</text>
<text class="it" x="440.5" y="362.11" font-size="10">MtFIE;12</text>
<text class="it" x="440.5" y="371.93" font-size="10">MtFIE;13</text>
<text class="it" x="440.5" y="381.75" font-size="10">MtFIE;14</text>
<text class="it" x="440.5" y="391.57" font-size="10">MtFIE;15</text>
<text class="it" x="440.5" y="401.39" font-size="10">MtFIE;16</text>
<text class="it" x="440.5" y="411.21" font-size="10">MtFIE;17</text>
<text class="it" x="440.5" y="421.03" font-size="10">MtFIE;18</text>
<text class="it" x="440.5" y="430.85" font-size="10">MtFIE;19</text>
<text class="it" x="440.5" y="440.67" font-size="10">MtFIE;20</text>
<text class="it" x="440.5" y="450.49" font-size="10">MtMSI1;1</text>
<text class="it" x="440.5" y="460.31" font-size="10">MtMSI1;2</text>
<text class="it" x="440.5" y="470.13" font-size="10">MtMSI1;3</text>
<text class="it" x="440.5" y="479.95" font-size="10">MtMSI1;4</text>
<text class="it" x="440.5" y="489.77" font-size="10">MtMSI1;5</text>
<text class="cl" x="54.38" y="434.00" font-size="12" text-anchor="end" transform="rotate(-45 54.38 434.00)">Seeding</text>
<text class="cl" x="75.23" y="434.00" font-size="12" text-anchor="end" transform="rotate(-45 75.23 434.00)">Root</text>
<text class="cl" x="101.58" y="432.00" font-size="12" text-anchor="end" transform="rotate(-45 101.58 432.00)">Flower</text>
<text class="cl" x="124.93" y="434.00" font-size="12" text-anchor="end" transform="rotate(-45 124.93 434.00)">Nodule</text>
<text class="cl" x="148.47" y="435.00" font-size="12" text-anchor="end" transform="rotate(-45 148.47 435.00)">Leaf</text>
<text class="cl" x="171.62" y="436.50" font-size="12" text-anchor="end" transform="rotate(-45 171.62 436.50)">Root Knot</text>
<text class="cl" x="359.93" y="494.80" font-size="10.0" text-anchor="end" transform="rotate(-45 359.93 494.80)">Nod Factor 4h</text>
<text class="cl" x="382.58" y="496.40" font-size="10.0" text-anchor="end" transform="rotate(-45 382.58 496.40)">Nod Factor 24h</text>
<text class="cl" x="406.03" y="494.80" font-size="10.0" text-anchor="end" transform="rotate(-45 406.03 494.80)">Mock 4h</text>
<text class="cl" x="430.18" y="495.30" font-size="10.0" text-anchor="end" transform="rotate(-45 430.18 495.30)">Mock 24h</text>
<rect x="265.9" y="12.0" width="13" height="99.5" fill="url(#ga)"/>
<line x1="279.2" y1="12" x2="279.2" y2="111.5" stroke="#555" stroke-width="0.8"/>
<line x1="279.2" y1="111.50" x2="281.2" y2="111.50" stroke="#333" stroke-width="0.8"/>
<text x="282.4" y="115.40" font-size="10">0</text>
<line x1="279.2" y1="97.29" x2="281.2" y2="97.29" stroke="#333" stroke-width="0.8"/>
<text x="282.4" y="101.19" font-size="10">1</text>
<line x1="279.2" y1="83.07" x2="281.2" y2="83.07" stroke="#333" stroke-width="0.8"/>
<text x="282.4" y="86.97" font-size="10">2</text>
<line x1="279.2" y1="68.86" x2="281.2" y2="68.86" stroke="#333" stroke-width="0.8"/>
<text x="282.4" y="72.76" font-size="10">3</text>
<line x1="279.2" y1="54.64" x2="281.2" y2="54.64" stroke="#333" stroke-width="0.8"/>
<text x="282.4" y="58.54" font-size="10">4</text>
<line x1="279.2" y1="40.43" x2="281.2" y2="40.43" stroke="#333" stroke-width="0.8"/>
<text x="282.4" y="44.33" font-size="10">5</text>
<line x1="279.2" y1="26.21" x2="281.2" y2="26.21" stroke="#333" stroke-width="0.8"/>
<text x="282.4" y="30.11" font-size="10">6</text>
<line x1="279.2" y1="12.00" x2="281.2" y2="12.00" stroke="#333" stroke-width="0.8"/>
<text x="282.4" y="15.90" font-size="10">7</text>
<rect x="512.8" y="11.7" width="11.8" height="89.9" fill="url(#gb)"/>
<line x1="524.8" y1="12" x2="524.8" y2="101.6" stroke="#555" stroke-width="0.8"/>
<line x1="524.8" y1="101.60" x2="526.6" y2="101.60" stroke="#333" stroke-width="0.8"/>
<text x="527.9" y="104.50" font-size="8.8">0.0</text>
<line x1="524.8" y1="86.67" x2="526.6" y2="86.67" stroke="#333" stroke-width="0.8"/>
<text x="527.9" y="89.57" font-size="8.8">0.5</text>
<line x1="524.8" y1="71.73" x2="526.6" y2="71.73" stroke="#333" stroke-width="0.8"/>
<text x="527.9" y="74.63" font-size="8.8">1.0</text>
<line x1="524.8" y1="56.80" x2="526.6" y2="56.80" stroke="#333" stroke-width="0.8"/>
<text x="527.9" y="59.70" font-size="8.8">1.5</text>
<line x1="524.8" y1="41.87" x2="526.6" y2="41.87" stroke="#333" stroke-width="0.8"/>
<text x="527.9" y="44.77" font-size="8.8">2.0</text>
<line x1="524.8" y1="26.93" x2="526.6" y2="26.93" stroke="#333" stroke-width="0.8"/>
<text x="527.9" y="29.83" font-size="8.8">2.5</text>
<line x1="524.8" y1="12.00" x2="526.6" y2="12.00" stroke="#333" stroke-width="0.8"/>
<text x="527.9" y="14.90" font-size="8.8">3.0</text>
</svg></body></html>
